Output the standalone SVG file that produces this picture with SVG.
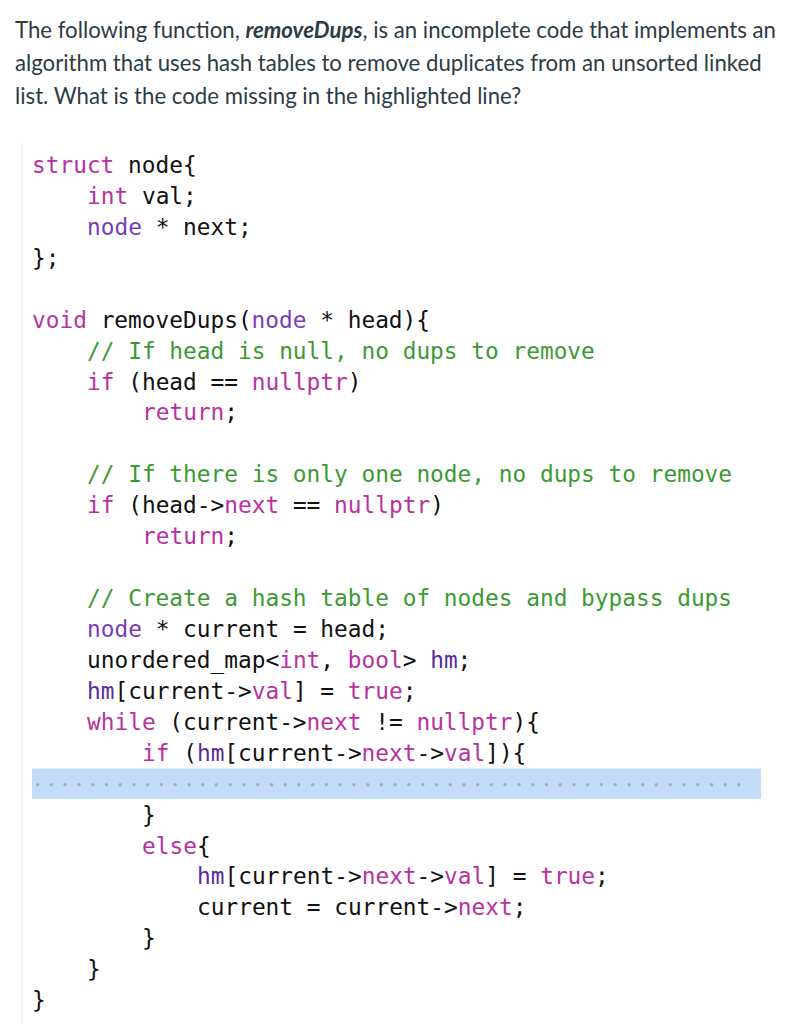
<svg xmlns="http://www.w3.org/2000/svg" width="811" height="1024" viewBox="0 0 811 1024">
<style>
.q{font-family:Lato,"Open Sans","Liberation Sans",sans-serif;font-size:22.2px;fill:#2d3b45}
.c{font-family:"DejaVu Sans Mono","Liberation Mono",monospace;font-size:22.8px;fill:#111;white-space:pre}
.k{fill:#b7329f}
.t{fill:#7a3cb6}
.h{fill:#5a2b9c}
.g{fill:#3c9a33}
</style>
<rect width="811" height="1024" fill="#fff"/>
<g id="question">
<text class="q" x="15" y="38">The following function, <tspan font-weight="bold" font-style="italic">removeDups</tspan>, is an incomplete code that implements an</text>
<text class="q" x="15" y="71">algorithm that uses hash tables to remove duplicates from an unsorted linked</text>
<text class="q" x="15" y="104">list. What is the code missing in the highlighted line?</text>
</g>
<g id="code-block">
<line x1="22" y1="143" x2="22" y2="1024" stroke="#ececec" stroke-width="1.5"/>
<rect id="highlight" x="32" y="768.5" width="729" height="30.5" fill="#c5dcf9"/>
<line x1="37.7" y1="784.7" x2="752.5" y2="784.7" stroke="#9fb0c8" stroke-width="3.6" stroke-linecap="round" stroke-dasharray="0 13.75"/>
<text class="c" x="32" y="173"><tspan class="k">struct</tspan> node{</text>
<text class="c" x="87" y="204"><tspan class="k">int</tspan> val;</text>
<text class="c" x="87" y="234.9"><tspan class="t">node</tspan> * next;</text>
<text class="c" x="32" y="265.8">};</text>
<text class="c" x="32" y="327.7"><tspan class="k">void</tspan> removeDups(<tspan class="t">node</tspan> * head){</text>
<text class="c g" x="87" y="358.6">// If head is null, no dups to remove</text>
<text class="c" x="87" y="389.5"><tspan class="k">if</tspan> (head == <tspan class="k">nullptr</tspan>)</text>
<text class="c k" x="142" y="420.4">return<tspan fill="#111">;</tspan></text>
<text class="c g" x="87" y="482.3">// If there is only one node, no dups to remove</text>
<text class="c" x="87" y="513.2"><tspan class="k">if</tspan> (head-&gt;<tspan class="k">next</tspan> == <tspan class="k">nullptr</tspan>)</text>
<text class="c k" x="142" y="544.2">return<tspan fill="#111">;</tspan></text>
<text class="c g" x="87" y="606">// Create a hash table of nodes and bypass dups</text>
<text class="c" x="87" y="637"><tspan class="t">node</tspan> * current = head;</text>
<text class="c" x="87" y="667.9">unordered_map&lt;<tspan class="k">int</tspan>, <tspan class="k">bool</tspan>&gt; <tspan class="h">hm</tspan>;</text>
<text class="c" x="87" y="698.8"><tspan class="h">hm</tspan>[current-&gt;<tspan class="k">val</tspan>] = <tspan class="k">true</tspan>;</text>
<text class="c" x="87" y="729.7"><tspan class="k">while</tspan> (current-&gt;<tspan class="k">next</tspan> != <tspan class="k">nullptr</tspan>){</text>
<text class="c" x="142" y="760.7"><tspan class="k">if</tspan> (<tspan class="h">hm</tspan>[current-&gt;<tspan class="k">next</tspan>-&gt;<tspan class="k">val</tspan>]){</text>
<text class="c" x="142" y="822.5">}</text>
<text class="c" x="142" y="853.5"><tspan class="k">else</tspan>{</text>
<text class="c" x="197" y="884.4"><tspan class="h">hm</tspan>[current-&gt;<tspan class="k">next</tspan>-&gt;<tspan class="k">val</tspan>] = <tspan class="k">true</tspan>;</text>
<text class="c" x="197" y="915.3">current = current-&gt;<tspan class="k">next</tspan>;</text>
<text class="c" x="142" y="946.3">}</text>
<text class="c" x="87" y="977.2">}</text>
<text class="c" x="32" y="1008.1">}</text>
</g>
</svg>
